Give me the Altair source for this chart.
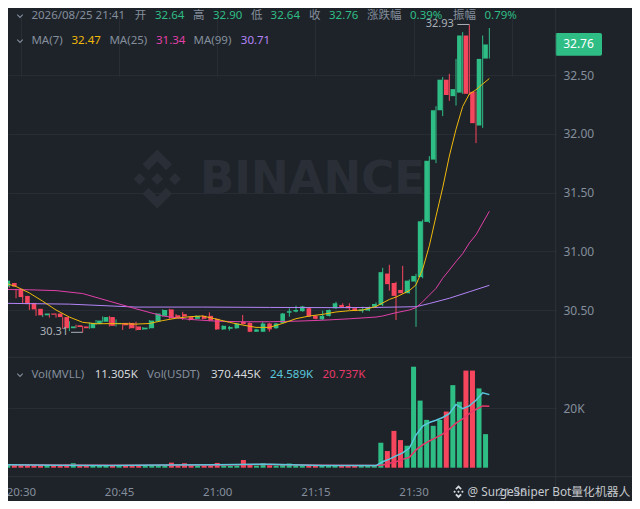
import altair as alt
import pandas as pd

# ---------------- data ----------------
times = [t.strftime("%Y-%m-%dT%H:%M:%S")
         for t in pd.date_range("2026-08-25 20:28", periods=74, freq="min")]

opens = [30.70, 30.73, 30.68, 30.62, 30.56, 30.51, 30.455, 30.47, 30.47, 30.44,
         30.345, 30.37, 30.36, 30.345, 30.38, 30.40, 30.44, 30.38, 30.39, 30.39,
         30.36, 30.335, 30.345, 30.405, 30.45, 30.505, 30.455, 30.465, 30.44, 30.425,
         30.45, 30.45, 30.425, 30.335, 30.34, 30.345, 30.40, 30.39, 30.315, 30.315,
         30.385, 30.345, 30.39, 30.477, 30.486, 30.49, 30.515, 30.45, 30.42, 30.45,
         30.515, 30.543, 30.534, 30.515, 30.49, 30.495, 30.528, 30.543, 30.81, 30.73,
         30.671, 30.643, 30.742, 30.78, 31.25, 31.78, 32.20, 32.46, 32.32, 32.35,
         32.836, 32.357, 32.07, 32.64]
highs = [30.76, 30.74, 30.68, 30.63, 30.56, 30.51, 30.47, 30.47, 30.47, 30.44,
         30.405, 30.375, 30.365, 30.395, 30.415, 30.445, 30.45, 30.42, 30.39, 30.395,
         30.40, 30.355, 30.415, 30.475, 30.505, 30.51, 30.465, 30.485, 30.445, 30.455,
         30.455, 30.48, 30.43, 30.37, 30.365, 30.39, 30.457, 30.395, 30.34, 30.40,
         30.39, 30.39, 30.475, 30.514, 30.537, 30.535, 30.52, 30.455, 30.494, 30.505,
         30.57, 30.557, 30.557, 30.52, 30.528, 30.53, 30.565, 30.859, 30.885, 30.74,
         30.876, 30.76, 30.808, 31.27, 31.81, 32.235, 32.483, 32.51, 32.637, 32.865,
         32.93, 32.36, 32.836, 32.90]
lows = [30.69, 30.69, 30.60, 30.55, 30.50, 30.45, 30.44, 30.435, 30.435, 30.34,
        30.32, 30.345, 30.31, 30.34, 30.375, 30.395, 30.36, 30.36, 30.33, 30.34,
        30.325, 30.33, 30.34, 30.40, 30.445, 30.425, 30.43, 30.415, 30.41, 30.42,
        30.42, 30.405, 30.33, 30.33, 30.325, 30.34, 30.375, 30.312, 30.315, 30.315,
        30.315, 30.34, 30.385, 30.443, 30.48, 30.485, 30.44, 30.42, 30.415, 30.445,
        30.51, 30.52, 30.50, 30.49, 30.477, 30.49, 30.525, 30.534, 30.665, 30.415,
        30.64, 30.64, 30.357, 30.77, 31.24, 31.75, 32.15, 32.28, 32.24, 32.34,
        32.33, 31.92, 32.05, 32.64]
closes = [30.75, 30.70, 30.61, 30.55, 30.505, 30.455, 30.47, 30.46, 30.44, 30.345,
          30.36, 30.355, 30.345, 30.39, 30.41, 30.44, 30.365, 30.39, 30.37, 30.345,
          30.33, 30.35, 30.41, 30.47, 30.50, 30.43, 30.435, 30.445, 30.415, 30.45,
          30.425, 30.41, 30.335, 30.365, 30.355, 30.385, 30.38, 30.315, 30.335, 30.385,
          30.335, 30.385, 30.47, 30.49, 30.50, 30.53, 30.445, 30.425, 30.45, 30.50,
          30.557, 30.523, 30.515, 30.495, 30.505, 30.523, 30.551, 30.822, 30.72, 30.62,
          30.643, 30.75, 30.79, 31.255, 31.77, 32.20, 32.46, 32.33, 32.38, 32.836,
          32.34, 32.09, 32.637, 32.76]
volumes_k = [1.2, 1.0, 0.9, 1.1, 0.9, 0.8, 0.7, 0.6, 0.8, 1.0,
             1.5, 0.7, 0.8, 0.7, 0.8, 0.9, 0.7, 0.6, 0.7, 0.8,
             0.7, 0.6, 0.8, 0.9, 0.8, 1.7, 0.8, 1.5, 0.7, 0.6,
             0.7, 0.8, 1.6, 0.7, 0.6, 0.7, 2.6, 0.9, 0.7, 1.5,
             0.8, 0.7, 1.2, 1.4, 0.8, 0.7, 0.7, 0.6, 0.7, 0.6,
             0.7, 0.6, 0.7, 0.6, 0.6, 0.7, 0.8,
             8.4, 5.6, 12.4, 9.3, 7.4, 34.0, 22.6, 16.1, 14.1, 16.1,
             18.9, 27.8, 22.2, 32.7, 32.7, 26.7, 11.3]

ma7_idx = list(range(0, 57, 2)) + list(range(57, 74))
ma7_val = [30.735, 30.70, 30.645, 30.575, 30.50, 30.44, 30.395, 30.383, 30.384, 30.383,
           30.38, 30.385, 30.41, 30.43, 30.443, 30.449, 30.423, 30.395, 30.372, 30.352,
           30.352, 30.386, 30.426, 30.449, 30.463, 30.483, 30.494, 30.50, 30.53,
           30.56, 30.59, 30.61, 30.637, 30.665, 30.714, 30.848, 31.047, 31.298, 31.54,
           31.81, 32.038, 32.232, 32.338, 32.374, 32.423, 32.47]
ma25_idx = [0, 4, 8, 12, 16, 20, 24, 28, 32, 36, 40, 44, 48, 52, 56, 57, 59, 61, 62, 63,
            64, 65, 66, 67, 68, 69, 70, 71, 72, 73]
ma25_val = [30.675, 30.672, 30.665, 30.64, 30.575, 30.51, 30.449, 30.42, 30.405, 30.40,
            30.40, 30.405, 30.413, 30.425, 30.44, 30.449, 30.477, 30.50, 30.52, 30.57,
            30.627, 30.684, 30.77, 30.84, 30.912, 30.98, 31.07, 31.14, 31.24, 31.34]
ma99_idx = [0, 10, 20, 30, 40, 50, 56, 62, 64, 67, 70, 73]
ma99_val = [30.557, 30.55, 30.525, 30.525, 30.522, 30.52, 30.522, 30.528, 30.555, 30.60,
            30.655, 30.71]

vma_idx = [0, 8, 16, 24, 32, 40, 48, 56, 57, 58, 59, 60, 61, 62, 63, 64, 65, 66, 67, 68,
           69, 70, 71, 72, 73]
vma5_val = [1.0, 0.85, 0.75, 0.9, 1.0, 1.2, 0.75, 0.7, 2.0, 2.9, 4.0, 5.0, 6.6, 11.0, 14.0,
            15.2, 16.0, 16.9, 18.2, 21.3, 19.9, 20.8, 22.7, 25.2, 24.6]
vma10_val = [1.0, 0.9, 0.8, 0.85, 0.95, 1.1, 0.85, 0.75, 0.9, 1.5, 2.0, 2.8, 3.5, 6.0, 7.7,
             9.0, 10.1, 11.3, 13.0, 15.0, 16.4, 18.2, 19.6, 20.8, 20.7]

price_ticks = [30.5, 31.0, 31.5, 32.0, 32.5]
vol_ticks = [20]
time_ticks = [(20, 30), (20, 45), (21, 0), (21, 15), (21, 30), (21, 45)]

# ---------------- styles ----------------
BG = "#1e2329"
GRID = "#282d35"
SEP = "#2d333b"
GREY = "#848e9c"
UP = "#2ebd85"
DN = "#f6465d"
C_MA7 = "#f0b90b"
C_MA25 = "#e040a8"
C_MA99 = "#b385f8"
C_V5 = "#5ac8dc"
C_V10 = "#e8386a"
FONT = "Noto Sans, Noto Sans CJK SC, sans-serif"

W, H = 548, 469

candles = pd.DataFrame(dict(t=times, o=opens, h=highs, l=lows, c=closes, v=volumes_k))
candles["col"] = [UP if c >= o else DN for o, c in zip(opens, closes)]


def series(idx, val):
    return pd.DataFrame({"t": [times[i] for i in idx], "p": val})


def dt(h, m, s=0, ms=0):
    return alt.DateTime(year=2026, month=8, date=25, hours=h, minutes=m,
                        seconds=s, milliseconds=ms)


def XS():
    return alt.Scale(domain=[dt(20, 28, 47, 700), dt(21, 51)])


def YP():
    return alt.Scale(domain=[30.5, 32.5], range=[302, 67], nice=False, zero=False)


def YV():
    return alt.Scale(domain=[0, 20], range=[459.7, 400.3], nice=False, zero=False)


AXX = alt.Axis(values=[dt(h, m) for h, m in time_ticks], format="%H:%M", title=None,
               labelColor=GREY, labelFontSize=11.5, labelFont=FONT, labelPadding=9,
               ticks=False, domain=False, grid=True, gridColor=GRID, labelOverlap=False,
               labelFlush=False)
AXP = alt.Axis(orient="right", values=price_ticks, format=".2f", title=None,
               labelColor=GREY, labelFontSize=12, labelFont=FONT, labelPadding=7,
               ticks=False, domain=False, grid=True, gridColor=GRID, labelFlush=False)
AXV = alt.Axis(orient="right", values=vol_ticks, labelExpr="datum.value + 'K'", title=None,
               labelColor=GREY, labelFontSize=12, labelFont=FONT, labelPadding=7,
               ticks=False, domain=False, grid=True, gridColor=GRID, labelFlush=False)


def X():
    return alt.X("t:T", scale=XS(), axis=None)


ONE = pd.DataFrame({"a": [0]})

LOGO = ("M0,-0.2 L0.2,0 L0,0.2 L-0.2,0 Z "
        "M-0.8,0 L-0.6,-0.2 L-0.4,0 L-0.6,0.2 Z "
        "M0.4,0 L0.6,-0.2 L0.8,0 L0.6,0.2 Z "
        "M-0.5,-0.5 L0,-1 L0.5,-0.5 L0.3,-0.3 L0,-0.6 L-0.3,-0.3 Z "
        "M-0.5,0.5 L0,1 L0.5,0.5 L0.3,0.3 L0,0.6 L-0.3,0.3 Z")
BADGE = ("M-0.92,-0.483 L0.92,-0.483 Q1,-0.483 1,-0.4 L1,0.4 Q1,0.483 0.92,0.483 "
         "L-0.92,0.483 Q-1,0.483 -1,0.4 L-1,-0.4 Q-1,-0.483 -0.92,-0.483 Z")
CHEV = "M-1,-0.5 L0,0.5 L1,-0.5"


def label(txt, x, y, color, size=11.5, font=FONT, weight="normal", align="left", opacity=1):
    return alt.Chart(pd.DataFrame({"s": [txt]})).mark_text(
        align=align, baseline="middle", color=color, fontSize=size, font=font,
        fontWeight=weight, opacity=opacity
    ).encode(x=alt.value(x), y=alt.value(y), text="s:N")


def glyph(path, x, y, size, color, filled=True, sw=0):
    return alt.Chart(ONE).mark_point(
        shape=path, size=size, filled=filled, opacity=1, color=color, strokeWidth=sw
    ).encode(x=alt.value(x), y=alt.value(y))


# ---------------- price panel ----------------
watermark = [
    glyph(LOGO, 149.3, 171, 3481, "#2a2f37"),
    label("BINANCE", 192, 171, "#2a2f37", size=45, font="DejaVu Sans", weight="bold"),
]

wicks = alt.Chart(candles).mark_rule(strokeWidth=1, clip=True).encode(
    x=X(), y=alt.Y("l:Q", scale=YP(), axis=AXP), y2="h:Q",
    color=alt.Color("col:N", scale=None))
bodies = alt.Chart(candles).mark_bar(size=4.6, clip=True).encode(
    x=X(), y=alt.Y("o:Q", scale=YP(), axis=None), y2="c:Q",
    color=alt.Color("col:N", scale=None))


def ma_line(df, color):
    return alt.Chart(df).mark_line(strokeWidth=1, clip=True, color=color).encode(
        x=X(), y=alt.Y("p:Q", scale=YP(), axis=None))


hi_i = highs.index(max(highs))
lo_i = lows.index(min(lows))


def marker(i, p, sec, dx):
    t2 = (pd.Timestamp(times[i]) - pd.Timedelta(seconds=sec)).strftime("%Y-%m-%dT%H:%M:%S")
    df = pd.DataFrame({"t": [times[i]], "t2": [t2], "p": [p]})
    r = alt.Chart(df).mark_rule(color="#aab0b8", strokeWidth=1).encode(
        x=X(), x2="t2:T", y=alt.Y("p:Q", scale=YP(), axis=None))
    tx = alt.Chart(df).mark_text(align="right", baseline="middle", dx=dx, color="#aab0b8",
                                 fontSize=11, font=FONT).encode(
        x=X(), y=alt.Y("p:Q", scale=YP(), axis=None), text=alt.Text("p:Q", format=".2f"))
    return [r, tx]


last = pd.DataFrame({"p": [closes[-1]]})
badge = [
    alt.Chart(last).mark_point(shape=BADGE, size=2209, filled=True, opacity=1, color=UP,
                               strokeWidth=0).encode(
        x=alt.value(570.5), y=alt.Y("p:Q", scale=YP(), axis=None)),
    alt.Chart(last).mark_text(align="center", baseline="middle", color="white",
                              fontSize=12, font=FONT).encode(
        x=alt.value(570.5), y=alt.Y("p:Q", scale=YP(), axis=None),
        text=alt.Text("p:Q", format=".2f")),
]

header1 = [("2026/08/25 21:41", 23.4, GREY), ("开", 126.7, GREY), ("32.64", 147, UP),
           ("高", 185, GREY), ("32.90", 205, UP), ("低", 243, GREY), ("32.64", 262.6, UP),
           ("收", 301, GREY), ("32.76", 321, UP), ("涨跌幅", 359, GREY), ("0.39%", 402, UP),
           ("振幅", 445, GREY), ("0.79%", 476.5, UP)]
header2 = [("MA(7)", 23.4, GREY), ("32.47", 63.4, C_MA7), ("MA(25)", 101.4, GREY),
           ("31.34", 148, C_MA25), ("MA(99)", 185.5, GREY), ("30.71", 232.8, C_MA99)]
header3 = [("Vol(MVLL)", 23.4, GREY), ("11.305K", 86.7, "#d5d8dc"), ("Vol(USDT)", 139, GREY),
           ("370.445K", 203, "#d5d8dc"), ("24.589K", 262, C_V5), ("20.737K", 314.4, C_V10)]

texts = [glyph(CHEV, 12, 8, 30, GREY, filled=False, sw=1.1),
         glyph(CHEV, 12, 33, 30, GREY, filled=False, sw=1.1),
         glyph(CHEV, 12, 367, 30, GREY, filled=False, sw=1.1)]
texts += [label(s, x, 8, c) for s, x, c in header1]
texts += [label(s, x, 33, c) for s, x, c in header2]
texts += [label(s, x, 367, c) for s, x, c in header3]

# ---------------- volume panel ----------------
vbars = alt.Chart(candles).mark_bar(size=5, clip=True).encode(
    x=alt.X("t:T", scale=XS(), axis=AXX),
    y=alt.Y("v:Q", scale=YV(), axis=AXV), y2=alt.datum(0),
    color=alt.Color("col:N", scale=None))


def vma_line(df, color):
    return alt.Chart(df).mark_line(strokeWidth=1.5, clip=True, color=color).encode(
        x=X(), y=alt.Y("p:Q", scale=YV(), axis=None))


seps = [
    alt.Chart(ONE).mark_rule(color=SEP, strokeWidth=1).encode(
        x=alt.value(0), x2=alt.value(624), y=alt.value(349.3)),
    alt.Chart(ONE).mark_rule(color=SEP, strokeWidth=1).encode(
        x=alt.value(0), x2=alt.value(624), y=alt.value(468.7)),
    alt.Chart(ONE).mark_rule(color=SEP, strokeWidth=1).encode(
        x=alt.value(547.7), y=alt.value(0), y2=alt.value(493)),
]

signature = [
    glyph(LOGO, 450.5, 483.7, 169, "#d5d8dc"),
    label("@ SurgeSniper Bot量化机器人", 459.5, 483.7, "#d5d8dc", size=11.8, opacity=0.92),
]

layers = (watermark + [wicks, bodies,
                       ma_line(series(ma99_idx, ma99_val), C_MA99),
                       ma_line(series(ma25_idx, ma25_val), C_MA25),
                       ma_line(series(ma7_idx, ma7_val), C_MA7)]
          + marker(hi_i, highs[hi_i], 108, -15.5)
          + marker(lo_i, lows[lo_i], 105, -14.5)
          + badge
          + [vbars,
             vma_line(series(vma_idx, vma10_val), C_V10),
             vma_line(series(vma_idx, vma5_val), C_V5)]
          + seps + texts + signature)

chart = alt.layer(*layers).resolve_scale(x="independent", y="independent").properties(
    width=W, height=H,
    padding={"left": 0, "top": 0, "right": 76, "bottom": 24},
    autosize=alt.AutoSizeParams(type="none"),
).configure(background=BG, font=FONT).configure_view(stroke=None)

chart.save("out.html", embed_options={"renderer": "svg", "actions": False})
